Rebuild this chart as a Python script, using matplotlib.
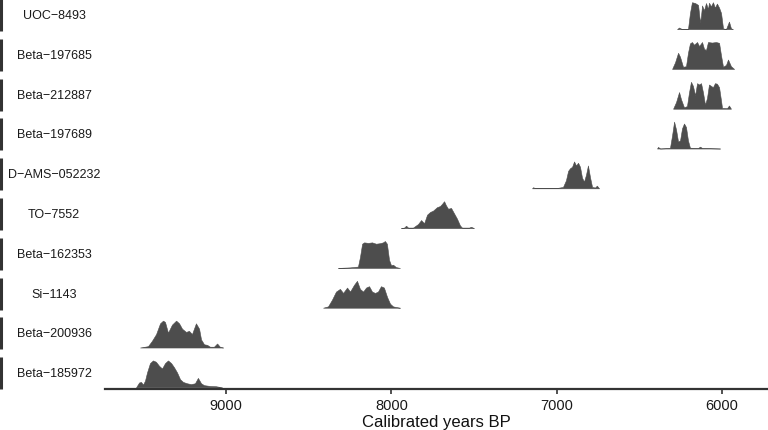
"""Calibrated radiocarbon date distributions, one ridge per sample."""

from __future__ import annotations

import matplotlib

matplotlib.use("Agg")
from matplotlib import pyplot as plt  # noqa: E402
from matplotlib.lines import Line2D  # noqa: E402

LABELS = [
    "UOC\u22128493",
    "Beta\u2212197685",
    "Beta\u2212212887",
    "Beta\u2212197689",
    "D\u2212AMS\u2212052232",
    "TO\u22127552",
    "Beta\u2212162353",
    "Si\u22121143",
    "Beta\u2212200936",
    "Beta\u2212185972",
]

# calibrated years BP and relative probability
UOC_8493_YEARS = [6272, 6260, 6242, 6206, 6194, 6182, 6163, 6145, 6133, 6127,
                  6121, 6109, 6097, 6085, 6079, 6067, 6055, 6043, 6031, 6018,
                  6006, 5994, 5976, 5958, 5946, 5934]
UOC_8493_DENS = [0, 0.06, 0, 0, 0.6, 1.0, 0.97, 0.9, 0.25, 0.5,
                 0.88, 0.7, 0.97, 0.75, 0.98, 0.85, 1.0, 0.8, 0.95, 0.8,
                 0.6, 0.03, 0, 0.28, 0.03, 0]

BETA_197685_YEARS = [6302, 6284, 6266, 6254, 6236, 6218, 6206, 6194, 6182, 6170,
                     6151, 6139, 6121, 6109, 6097, 6085, 6061, 6037, 6018, 6006,
                     5994, 5976, 5964, 5946, 5927]
BETA_197685_DENS = [0, 0.25, 0.6, 0.45, 0.08, 0.1, 0.6, 0.95, 1.0, 0.9,
                    1.0, 0.85, 1.0, 0.75, 0.7, 1.0, 0.98, 1.0, 0.97, 0.5,
                    0.08, 0.15, 0.35, 0.1, 0]

BETA_212887_YEARS = [6296, 6278, 6260, 6248, 6230, 6212, 6200, 6188, 6176, 6163,
                     6151, 6139, 6127, 6115, 6103, 6091, 6079, 6067, 6055, 6043,
                     6031, 6018, 6006, 6000, 5970, 5958, 5946]
BETA_212887_DENS = [0, 0.25, 0.62, 0.35, 0.05, 0.1, 0.6, 1.0, 0.85, 0.5,
                    0.95, 0.9, 0.95, 0.6, 0.15, 0.4, 0.9, 0.85, 0.8, 0.95,
                    0.93, 0.8, 0.3, 0.03, 0.02, 0.12, 0]

BETA_197689_YEARS = [6393, 6387, 6375, 6315, 6302, 6290, 6278, 6266, 6254, 6242,
                     6230, 6218, 6206, 6194, 6145, 6133, 6121, 6012]
BETA_197689_DENS = [0, 0.06, 0, 0.02, 0.5, 1.0, 0.7, 0.26, 0.3, 0.75,
                    0.93, 0.8, 0.3, 0.03, 0.02, 0.07, 0.02, 0]

D_AMS_052232_YEARS = [7149, 7143, 7131, 6992, 6962, 6944, 6931, 6919, 6907, 6895,
                      6883, 6871, 6859, 6847, 6835, 6823, 6811, 6798, 6786, 6768,
                      6757, 6744]
D_AMS_052232_DENS = [0, 0.04, 0.01, 0.02, 0.05, 0.3, 0.65, 0.75, 0.8, 1.0,
                     0.85, 0.95, 0.8, 0.4, 0.25, 0.5, 0.85, 0.4, 0.05, 0.03,
                     0.1, 0]

TO_7552_YEARS = [7942, 7923, 7911, 7899, 7869, 7839, 7820, 7802, 7784, 7766,
                 7748, 7724, 7706, 7694, 7681, 7670, 7657, 7639, 7621, 7603,
                 7585, 7573, 7530, 7518, 7500]
TO_7552_DENS = [0, 0.02, 0.09, 0.02, 0.02, 0.15, 0.3, 0.18, 0.5, 0.6,
                0.65, 0.78, 0.82, 0.9, 1.0, 0.85, 0.72, 0.75, 0.55, 0.35,
                0.1, 0.02, 0.02, 0.05, 0]

BETA_162353_YEARS = [8323, 8250, 8202, 8190, 8177, 8165, 8141, 8117, 8093, 8069,
                     8051, 8039, 8027, 8014, 8002, 7990, 7972, 7948]
BETA_162353_DENS = [0, 0.02, 0.05, 0.4, 0.9, 0.95, 0.93, 0.95, 0.9, 0.92,
                    0.95, 1.0, 0.9, 0.3, 0.1, 0.12, 0.03, 0]

SI_1143_YEARS = [8413, 8383, 8359, 8335, 8311, 8292, 8268, 8250, 8226, 8208,
                 8190, 8171, 8153, 8135, 8117, 8099, 8081, 8063, 8045, 8026,
                 8008, 7990, 7966, 7948]
SI_1143_DENS = [0, 0.05, 0.3, 0.6, 0.7, 0.55, 0.75, 0.6, 0.85, 1.0,
                0.7, 0.6, 0.75, 0.8, 0.6, 0.55, 0.6, 0.8, 0.75, 0.4,
                0.15, 0.05, 0.02, 0]

BETA_200936_YEARS = [9520, 9472, 9448, 9423, 9399, 9381, 9369, 9351, 9327, 9302,
                     9284, 9266, 9242, 9224, 9206, 9194, 9182, 9163, 9151, 9133,
                     9115, 9097, 9073, 9054, 9036, 9018]
BETA_200936_DENS = [0, 0.05, 0.25, 0.5, 0.9, 1.0, 0.95, 0.55, 0.85, 1.0,
                    0.9, 0.7, 0.58, 0.62, 0.5, 0.7, 0.9, 0.7, 0.3, 0.12,
                    0.1, 0.03, 0.03, 0.15, 0.02, 0]

BETA_185972_YEARS = [9544, 9526, 9514, 9502, 9490, 9478, 9460, 9442, 9424, 9405,
                     9387, 9369, 9351, 9332, 9315, 9296, 9278, 9260, 9236, 9212,
                     9188, 9170, 9151, 9133, 9097, 9061, 9024]
BETA_185972_DENS = [0, 0.18, 0.2, 0.1, 0.25, 0.55, 0.9, 1.0, 0.95, 0.8,
                    0.7, 0.9, 1.0, 0.9, 0.75, 0.55, 0.3, 0.2, 0.15, 0.12,
                    0.15, 0.35, 0.15, 0.08, 0.05, 0.04, 0]

X_TICKS = [9000, 8000, 7000, 6000]
X_LABEL = "Calibrated years BP"

SERIES = [
    (UOC_8493_YEARS, UOC_8493_DENS),
    (BETA_197685_YEARS, BETA_197685_DENS),
    (BETA_212887_YEARS, BETA_212887_DENS),
    (BETA_197689_YEARS, BETA_197689_DENS),
    (D_AMS_052232_YEARS, D_AMS_052232_DENS),
    (TO_7552_YEARS, TO_7552_DENS),
    (BETA_162353_YEARS, BETA_162353_DENS),
    (SI_1143_YEARS, SI_1143_DENS),
    (BETA_200936_YEARS, BETA_200936_DENS),
    (BETA_185972_YEARS, BETA_185972_DENS),
]

_W, _H = 768, 431
_FILL = "#4d4d4d"
_DARK = "#333333"
_PANEL_LEFT = 105
_ROW_STEP = 39.8
_ROW_H = 32
_XLIM = (9732, 5722)

plt.rcParams["font.family"] = ["Liberation Sans", "DejaVu Sans"]


def main() -> None:
    fig = plt.figure(figsize=(_W / 100, _H / 100), dpi=100)
    n_rows = len(LABELS)
    for idx, (label, (years, dens)) in enumerate(zip(LABELS, SERIES)):
        top = idx * _ROW_STEP
        ax = fig.add_axes(
            [
                _PANEL_LEFT / _W,
                1 - (top + _ROW_H) / _H,
                (_W - _PANEL_LEFT) / _W,
                _ROW_H / _H,
            ]
        )
        ax.fill_between(years, 0, dens, color=_FILL, linewidth=0.4, edgecolor=_FILL)
        ax.set_xlim(*_XLIM)
        ax.set_ylim(-0.07, 1.12)
        ax.set_yticks([])
        for side in ("top", "right", "left", "bottom"):
            ax.spines[side].set_visible(False)
        ax.patch.set_alpha(0)
        if idx == n_rows - 1:
            ax.spines["bottom"].set_visible(True)
            ax.spines["bottom"].set_color(_DARK)
            ax.spines["bottom"].set_linewidth(1.6)
            ax.set_xticks(X_TICKS)
            ax.set_xticklabels([str(t) for t in X_TICKS], fontsize=10.5, color="#1a1a1a")
            ax.tick_params(axis="x", length=3.5, width=1.2, color=_DARK, pad=2.5)
            ax.set_xlabel(X_LABEL, fontsize=12, color="#111111", labelpad=2)
        else:
            ax.set_xticks([])

        # strip label on the left with its dark edge bar
        y_mid = 1 - (top + _ROW_H / 2) / _H
        fig.text(54 / _W, y_mid, label, ha="center", va="center",
                 fontsize=9, color="#1a1a1a")
        fig.add_artist(
            Line2D(
                [1.3 / _W, 1.3 / _W],
                [1 - top / _H, 1 - (top + _ROW_H) / _H],
                transform=fig.transFigure,
                color=_DARK,
                linewidth=2.2,
                solid_capstyle="butt",
            )
        )

    fig.savefig("out.png", dpi=100)
    plt.close(fig)


if __name__ == "__main__":
    main()
